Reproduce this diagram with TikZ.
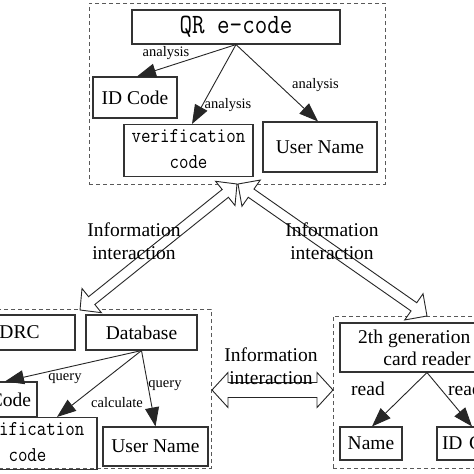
\documentclass[tikz,border=0pt]{standalone}
\usepackage{fontspec}
\setmainfont{Liberation Serif}
\usepackage{graphicx}
\usetikzlibrary{calc,arrows.meta}
\tikzset{
 box/.style={draw=black!80, line width=1.1pt, inner sep=0pt, font=\fontsize{19.5}{22}\selectfont, align=center},
 grp/.style={draw=black!65, dash pattern=on 4pt off 3pt, line width=0.9pt, inner sep=0pt},
 lnk/.style={draw=black!85, line width=0.9pt, -{Triangle[length=19pt,width=14pt]}},
 small/.style={font=\fontsize{14.5}{16}\selectfont, inner sep=0pt},
 info/.style={font=\fontsize{19.5}{23}\selectfont, align=center, inner sep=0pt},
 bigarrow/.style={draw=black!85, fill=white, line width=0.9pt, line join=miter},
}
\newcommand\monotext[2]{\scalebox{1}[1.15]{\ttfamily\fontsize{#1}{#1}\selectfont #2}}
\newcommand\monotwo[2]{\scalebox{1}[1.15]{\ttfamily\fontsize{18.4}{22.6}\selectfont\begin{tabular}{@{}c@{}}#1\\#2\end{tabular}}}
\newcommand\bigdarrow[5]{%
 \draw[bigarrow] let \p1=($(#2)-(#1)$), \n1={atan2(\y1,\x1)}, \n2={veclen(\x1,\y1)} in
 [shift={(#1)}, rotate=\n1] (0pt,0pt) -- (#5,#4) -- (#5,#3) -- (\n2-#5,#3) -- (\n2-#5,#4) -- (\n2,0pt)
 -- (\n2-#5,-#4) -- (\n2-#5,-#3) -- (#5,-#3) -- (#5,-#4) -- cycle;}
\begin{document}
\begin{tikzpicture}[x=1pt,y=-1pt]
\useasboundingbox (0,0) rectangle (474,474);
\clip (0,0) rectangle (474,474);
\fill[white] (0,0) rectangle (474,474);
% groups
\node[grp, minimum width=296pt, minimum height=181pt] (topgrp) at (237,93.5) {};
\node[grp, minimum width=261pt, minimum height=159pt] (leftgrp) at (80.5,388.5) {};
\node[grp, minimum width=207pt, minimum height=152pt] (rightgrp) at (436.5,392) {};
% top group
\node[box, minimum width=208pt, minimum height=34pt] (qr) at (236,27) {\monotext{24.3}{QR e-code}};
\node[box, minimum width=84pt, minimum height=41pt] (id1) at (135,97.5) {ID Code};
\node[box, minimum width=129pt, minimum height=49pt] (ver1) at (188.5,150.5) {\monotwo{verification}{code}};
\node[box, minimum width=114pt, minimum height=50pt] (un1) at (320,147) {User Name};
\draw[lnk] (qr.south) -- ([xshift=2pt]id1.north);
\draw[lnk] (qr.south) -- ([xshift=3.5pt]ver1.north);
\draw[lnk] (qr.south) -- ([xshift=-2pt]un1.north);
\node[small] at (166,53) {analysis};
\node[small] at (228,105) {analysis};
\node[small] at (315.5,85) {analysis};
% left group
\node[box, minimum width=111pt, minimum height=35pt] (drc) at (19.5,332.5) {DRC};
\node[box, minimum width=111pt, minimum height=35pt] (db) at (141.5,332.5) {Database};
\node[box, minimum width=82pt, minimum height=35pt, text width=70pt, align=right] (id2) at (-4,399.5) {\hphantom{ID }Code};
\node[box, minimum width=139pt, minimum height=45pt] (ver2) at (27.5,443.5) {\monotwo{\hphantom{ver}ification}{code}};
\node[box, minimum width=105pt, minimum height=39pt] (un2) at (155.5,446.5) {User Name};
\draw[lnk] (db.south) -- ([xshift=9pt]id2.north);
\draw[lnk] (db.south) -- ([xshift=29.5pt]ver2.north);
\draw[lnk] (db.south) -- (un2.north);
\node[small] at (65,379) {query};
\node[small] at (117,403) {calculate};
\node[small] at (165,386) {query};
% right group
\node[box, minimum width=174pt, minimum height=49pt] (reader) at (427,347.5) {2th generation\hphantom{ ID}\\card reader};
\node[box, minimum width=62pt, minimum height=33pt] (name) at (371,443.5) {Name};
\node[box, minimum width=84pt, minimum height=33pt, text width=74pt, align=left] (id3) at (479,443.5) {ID C};
\draw[lnk] (reader.south) -- ([xshift=1pt]name.north);
\draw[lnk] (reader.south) -- ([xshift=-7pt]id3.north);
\node[info] at (368,389) {read};
\node[info, anchor=west] at (448,389) {read};
% big interaction arrows
\coordinate (L1a) at (237,184); \coordinate (L1b) at (80,310);
\coordinate (R1a) at (238,184); \coordinate (R1b) at (427,316);
\coordinate (Ma) at (212,390); \coordinate (Mb) at (333,390);
\bigdarrow{L1a}{L1b}{5pt}{15.5pt}{15pt}
\bigdarrow{R1a}{R1b}{5pt}{16pt}{16pt}
\bigdarrow{Ma}{Mb}{7.5pt}{17.5pt}{16pt}
\node[info] at (134,241.5) {Information\\interaction};
\node[info] at (332,241.5) {Information\\interaction};
\node[info] at (271,366.5) {Information\\interaction};
\end{tikzpicture}
\end{document}
